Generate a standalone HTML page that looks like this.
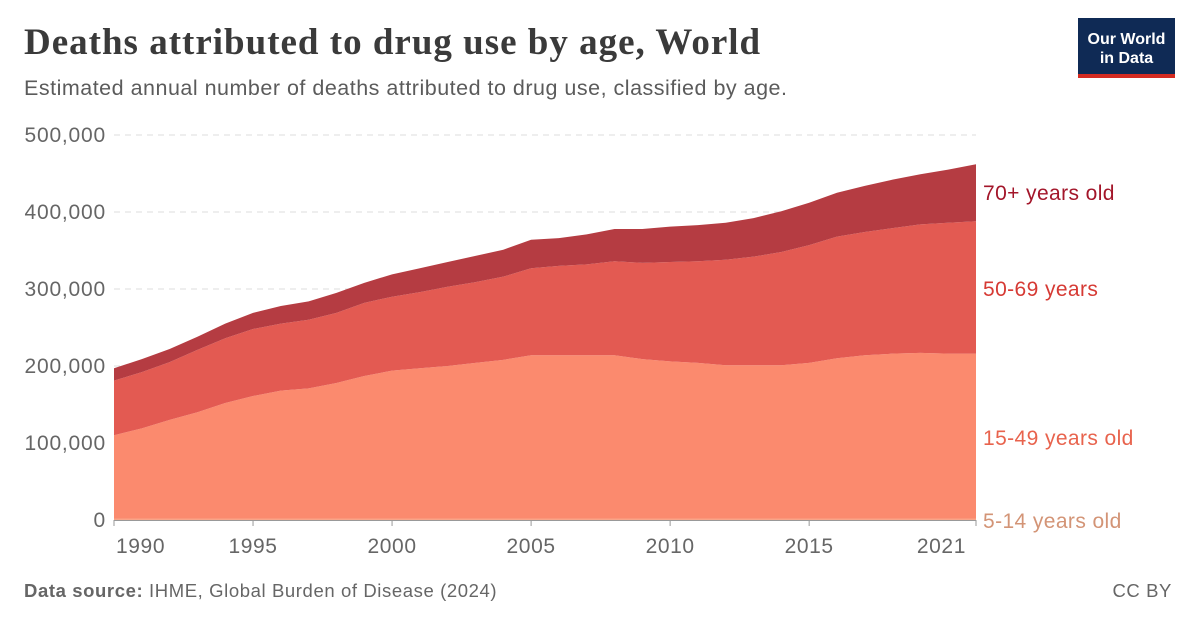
<!DOCTYPE html>
<html><head><meta charset="utf-8">
<style>
body{margin:0;width:1200px;height:627px;background:#fff;font-family:"Liberation Sans",sans-serif;overflow:hidden;position:relative}
.title{position:absolute;left:24px;top:21px;font-family:"Liberation Serif",serif;font-size:37px;font-weight:bold;color:#3a3a3a;letter-spacing:1px}
.sub{position:absolute;left:24px;top:76px;font-size:21.5px;color:#5b5b5b;letter-spacing:0.5px}
.logo{position:absolute;left:1078px;top:18px;width:97px;height:60px;background:#0f2a55;border-bottom:4px solid #d42b21;color:#fff;font-size:16px;font-weight:bold;text-align:center;line-height:19px;box-sizing:border-box;padding-top:12px}
.foot{position:absolute;top:580px;font-size:18.5px;color:#666;letter-spacing:0.6px}
</style></head><body>
<div class="title">Deaths attributed to drug use by age, World</div>
<div class="sub">Estimated annual number of deaths attributed to drug use, classified by age.</div>
<div class="logo">Our World<br>in Data</div>
<div class="foot" style="left:24px"><b>Data source:</b> IHME, Global Burden of Disease (2024)</div>
<div class="foot" style="right:28px">CC BY</div>
<svg id="chart" width="1200" height="627" style="position:absolute;left:0;top:0"></svg>
<script>
const years=[];for(let y=1990;y<=2021;y++)years.push(y);
const s5_14=[2,2,2,2,2,2,2,2,2,2,2,2,2,2,2,2,2,2,2,2,2,2,2,2,2,2,2,2,2,2,2,2];
const s15_49=[108,117,128,138,150,159,166,169,176,185,192,195,198,202,206,212,212,212,212,207,204,202,199,199,199,202,208,212,214,215,214,214];
const s50_69=[71,73,75,81,84,87,87,89,91,95,96,99,103,105,108,113,116,118,122,125,129,132,137,141,147,153,158,160,163,167,170,172];
const s70=[16,17,17,17,19,21,23,24,26,26,29,31,32,34,35,37,36,39,42,44,46,47,48,50,53,55,57,60,63,65,69,74];
const yTicks=[0,100000,200000,300000,400000,500000];
const yTickLabels=["0","100,000","200,000","300,000","400,000","500,000"];
const xTicks=[1990,1995,2000,2005,2010,2015,2021];
const series=[
 {name:"5-14 years old",vals:s5_14,fill:"#f9a488",lab:"#d39476",ly:521},
 {name:"15-49 years old",vals:s15_49,fill:"#fb8a6e",lab:"#e8634d",ly:438},
 {name:"50-69 years",vals:s50_69,fill:"#e35a52",lab:"#d63a34",ly:289},
 {name:"70+ years old",vals:s70,fill:"#b53c42",lab:"#a3162a",ly:193}];
const X=y=>114+(y-1990)*(976-114)/31;
const Y=v=>520-v*385/500000;
const svg=document.getElementById('chart');const NS="http://www.w3.org/2000/svg";
function mk(t,a){const e=document.createElementNS(NS,t);for(const k in a)e.setAttribute(k,a[k]);svg.appendChild(e);return e;}
yTicks.forEach((t,i)=>{
 if(t>0){const g=mk('line',{x1:114,x2:976,y1:Y(t),y2:Y(t),stroke:'#ddd','stroke-dasharray':'6,5'});
 
 }
 const l=mk('text',{x:106,y:Y(t)+7,'text-anchor':'end','font-size':21,'letter-spacing':'0.8',fill:'#666','font-family':'Liberation Sans'});l.textContent=yTickLabels[i];
 
 
});
let base=years.map(()=>0);
series.forEach(s=>{
 const top=base.map((b,i)=>b+s.vals[i]*1000);
 let d='M'+years.map((y,i)=>X(y)+','+Y(top[i])).join('L');
 for(let i=years.length-1;i>=0;i--)d+='L'+X(years[i])+','+Y(base[i]);
 const p=mk('path',{d:d+'Z',fill:s.fill});
 
 
 const t=mk('text',{x:983,y:s.ly+7,'font-size':21,'letter-spacing':'0.4',fill:s.lab,'font-family':'Liberation Sans'});t.textContent=s.name;
 
 
 base=top;
});
const ax=mk('line',{x1:114,x2:976,y1:520.5,y2:520.5,stroke:'#999'});


xTicks.forEach((y,i)=>{
 const tk=mk('line',{x1:X(y),x2:X(y),y1:520,y2:526,stroke:'#999'});
 
 
 const anchor=i===0?'start':(i===xTicks.length-1?'end':'middle');
 const lx=i===0?X(y)+2:(i===xTicks.length-1?X(y)-10:X(y));
 const l=mk('text',{x:lx,y:553,'text-anchor':anchor,'font-size':21,'letter-spacing':'0.6',fill:'#666','font-family':'Liberation Sans'});l.textContent=y;
 
 
});
</script>
</body></html>
